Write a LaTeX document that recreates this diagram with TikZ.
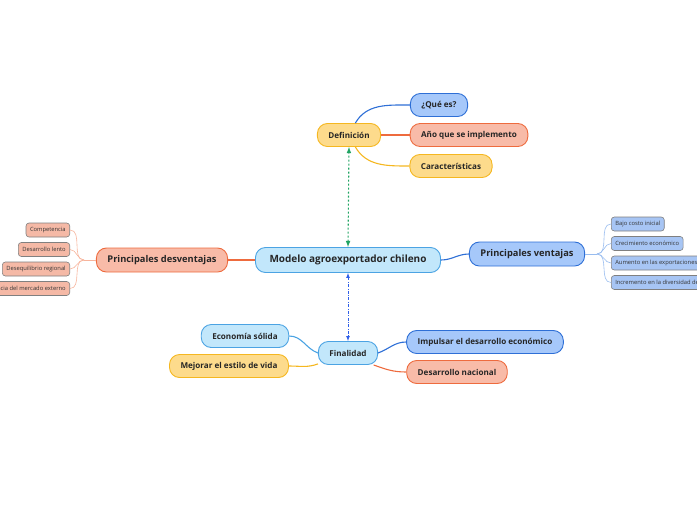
\documentclass[tikz,border=0pt]{standalone}
\usepackage{fontspec}
\setmainfont{Open Sans}
\usetikzlibrary{arrows.meta, positioning, calc}

\definecolor{blueF}{HTML}{A6C8FA}
\definecolor{blueD}{HTML}{2E6FD6}
\definecolor{orangeF}{HTML}{F8BBA8}
\definecolor{orangeD}{HTML}{EE6B3E}
\definecolor{yellowF}{HTML}{FDDB8C}
\definecolor{yellowD}{HTML}{F5B720}
\definecolor{skyF}{HTML}{C2E7FB}
\definecolor{skyD}{HTML}{4BA3E3}
\definecolor{leafO}{HTML}{F5B9A6}
\definecolor{leafB}{HTML}{A7C5F4}
\definecolor{lineO}{HTML}{F7B49C}
\definecolor{lineB}{HTML}{98BCEF}
\definecolor{greenA}{HTML}{21A463}
\definecolor{blueA}{HTML}{2F5FE8}

\tikzset{
  topic/.style={rounded corners=10pt, line width=0.9pt, inner xsep=11pt,
    minimum height=23pt, text=black!85,
    font=\bfseries\fontsize{8.1}{9.5}\selectfont},
  leaf/.style={rounded corners=3pt, line width=0.6pt, draw=black!50,
    minimum height=14pt, inner xsep=4pt, inner ysep=1pt, text=black!80,
    font=\fontsize{5.8}{7}\selectfont},
  branch/.style={line width=1.1pt},
}

\begin{document}
\begin{tikzpicture}[>=latex, x=1pt, y=-1pt]
\useasboundingbox (0,0) rectangle (697,520);

% nodos principales
\node[topic, draw=skyD, fill=skyF, minimum height=25pt, inner xsep=14pt,
  font=\bfseries\fontsize{10}{12}\selectfont] (modelo) at (348,260) {Modelo agroexportador chileno};
\node[topic, draw=yellowD, fill=yellowF] (definicion) at (349,135) {Definición};
\node[topic, draw=blueD, fill=blueF] (quees) at (439,105) {¿Qué es?};
\node[topic, draw=orangeD, fill=orangeF] (anio) at (469,135) {Año que se implemento};
\node[topic, draw=yellowD, fill=yellowF] (caract) at (451,166) {Características};
\node[topic, draw=blueD, fill=blueF, minimum height=24pt,
  font=\bfseries\fontsize{9.3}{11}\selectfont] (ventajas) at (527,254) {Principales ventajas};
\node[topic, draw=orangeD, fill=orangeF, minimum height=24pt,
  font=\bfseries\fontsize{9.3}{11}\selectfont] (desventajas) at (162,260) {Principales desventajas};
\node[topic, draw=skyD, fill=skyF] (finalidad) at (348,353) {Finalidad};
\node[topic, draw=skyD, fill=skyF] (economia) at (245,336) {Economía sólida};
\node[topic, draw=yellowD, fill=yellowF] (mejorar) at (229,366) {Mejorar el estilo de vida};
\node[topic, draw=blueD, fill=blueF] (impulsar) at (485,342) {Impulsar el desarrollo económico};
\node[topic, draw=orangeD, fill=orangeF] (nacional) at (457,372) {Desarrollo nacional};

% ramas
\draw[branch, blueD] (definicion.62) to[out=60,in=180] (quees.west);
\draw[branch, orangeD] (definicion.east) -- (anio.west);
\draw[branch, yellowD] (definicion.-62) to[out=-60,in=180] (caract.west);
\draw[branch, orangeD] (desventajas.east) -- (modelo.west);
\draw[branch, blueD] (modelo.east) to[out=0,in=180] (ventajas.west);
\draw[branch, skyD] (finalidad.west) to[out=160,in=0] (economia.east);
\draw[branch, yellowD] (finalidad.-160) to[out=200,in=0] (mejorar.east);
\draw[branch, blueD] (finalidad.east) to[out=20,in=180] (impulsar.west);
\draw[branch, orangeD] (finalidad.-25) to[out=-20,in=180] (nacional.west);

% flechas punteadas
\draw[<->, greenA, line width=1.1pt, dash pattern=on 2pt off 2pt] (modelo.north) -- (definicion.south);
\draw[<->, blueA, line width=0.7pt, dash pattern=on 3pt off 1.5pt on 0.7pt off 1.5pt] (modelo.south) -- (finalidad.north);

% hojas
\coordinate (izq) at (84,260);
\coordinate (der) at (597,254);
\draw[lineO, line width=1pt] (desventajas.west) -- (izq);
\draw[lineB, line width=1pt] (ventajas.east) -- (der);
\foreach \txt [count=\i] in {Competencia, Desarrollo lento, Desequilibrio regional, Dependencia del mercado externo}
{
    \node[leaf, fill=leafO, anchor=east] (des\i) at (70,210.5+19.5*\i) {\txt};
    \draw[lineO, line width=0.6pt] (izq) to[out=180,in=0] (des\i.east);
}
\foreach \txt [count=\i] in {Bajo costo inicial, Crecimiento económico, Aumento en las exportaciones, Incremento en la diversidad de productos}
{
    \node[leaf, fill=leafB, anchor=west] (ven\i) at (611,204.5+19.5*\i) {\txt};
    \draw[lineB, line width=0.6pt] (der) to[out=0,in=180] (ven\i.west);
}
\end{tikzpicture}
\end{document}
